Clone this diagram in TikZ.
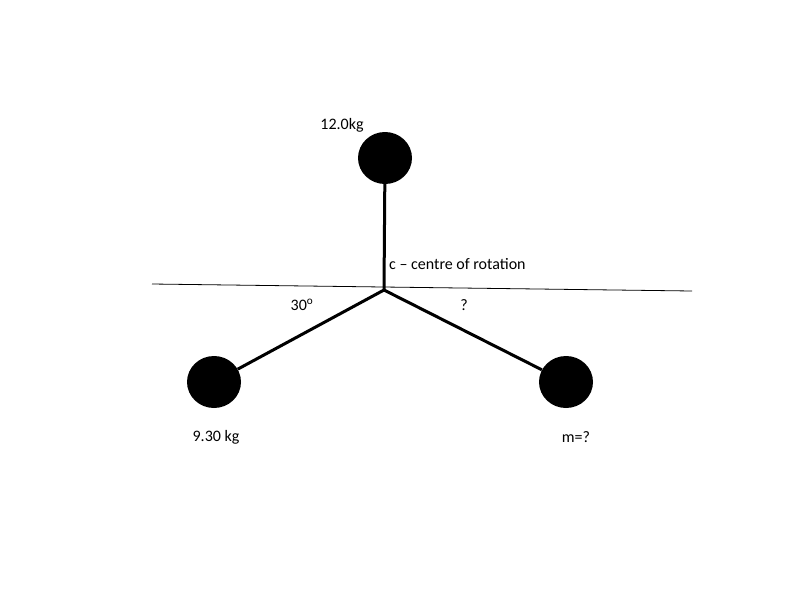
\documentclass[tikz,border=0pt]{standalone}
\usepackage{fontspec}
\setmainfont{Carlito}
\begin{document}
\begin{tikzpicture}[x=1pt,y=-1pt,
  ball/.style={ellipse,fill=black,minimum width=54pt,minimum height=52pt,inner sep=0pt},
  rod/.style={line width=3pt},
  lbl/.style={font=\fontsize{16}{19}\selectfont,inner sep=0pt}]
\usetikzlibrary{shapes.geometric}
\useasboundingbox (0,0) rectangle (800,600);
\coordinate (c) at (384,290);
\coordinate (hl) at (152,284);
\coordinate (hr) at (692,291);
\draw[line width=0.8pt] (hl) -- (hr);
\node[ball] (top) at (385,158) {};
\node[ball] (left) at (214,382) {};
\node[ball] (right) at (566,382) {};
\draw[rod] (c) -- (top);
\draw[rod] (c) -- (left);
\draw[rod] (c) -- (right);
\node[lbl] (t1) at (342,125) {12.0kg};
\node[lbl,anchor=west] (t2) at (389,264) {c -- centre of rotation};
\node[lbl] (t3) at (302,305) {30\textsuperscript{o}};
\node[lbl] (t4) at (464,305) {?};
\node[lbl] (t5) at (216,437) {9.30 kg};
\node[lbl] (t6) at (576,437) {m=?};
\end{tikzpicture}
\end{document}
